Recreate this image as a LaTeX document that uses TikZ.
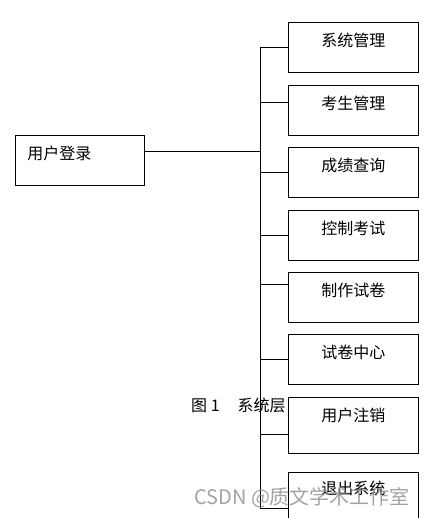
\documentclass[tikz,border=0pt]{standalone}
\usepackage{fontspec}
\newfontfamily\cjk{Noto Sans CJK SC}
\begin{document}
\begin{tikzpicture}[x=1bp,y=-1bp,
  box/.style={draw,line width=0.8bp,fill=white,inner sep=0pt,minimum width=130bp,
    text height=24bp,text depth=26bp,anchor=north west,font=\cjk\fontsize{16bp}{16bp}\selectfont},
  wire/.style={line width=0.8bp}]
\useasboundingbox (0,0) rectangle (422,518);
\begin{scope}
\clip (0,0) rectangle (422,518);
% caption (under boxes)
\node[anchor=west,inner sep=0pt,font=\cjk\fontsize{16bp}{16bp}\selectfont] (cap) at (191,405) {图 1\hspace{18bp}系统层};
% root
\node[box,minimum width=129bp,text width=105bp,align=left] (root) at (15,135) {用户登录};
% children
\node[box] (b1) at (288,22) {系统管理};
\node[box] (b2) at (288,85) {考生管理};
\node[box] (b3) at (288,147) {成绩查询};
\node[box] (b4) at (288,210) {控制考试};
\node[box] (b5) at (288,272) {制作试卷};
\node[box] (b6) at (288,334) {试卷中心};
\node[box,text depth=32bp] (b7) at (288,397) {用户注销};
\node[box,text height=22bp,text depth=40bp] (b8) at (288,472) {退出系统};
% trunk
\coordinate (t1) at (260,47);
\coordinate (t2) at (260,102);
\coordinate (t3) at (260,172);
\coordinate (t4) at (260,235);
\coordinate (t5) at (260,284);
\coordinate (t6) at (260,359);
\coordinate (t7) at (260,434);
\coordinate (t8) at (260,508);
\coordinate (tr) at (260,151);
\draw[wire] (t1) -- (t8);
\draw[wire] (root.east |- tr) -- (tr);
\foreach \i in {1,...,8} {\draw[wire] (t\i) -- (t\i -| b\i.west);}
% watermark
\node[anchor=west,inner sep=0pt,text=black!45,opacity=0.8,font=\cjk\fontsize{20bp}{20bp}\selectfont] (wm) at (194,498) {CSDN @质文学术工作室};
\end{scope}
\end{tikzpicture}
\end{document}
